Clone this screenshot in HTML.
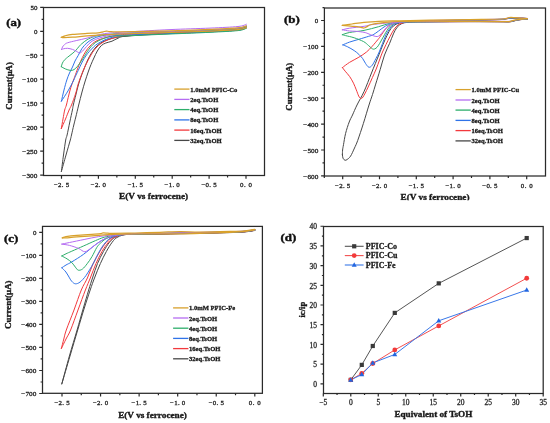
<!DOCTYPE html>
<html><head><meta charset="utf-8"><title>CV figure</title>
<style>
html,body{margin:0;padding:0;background:#fff;}
body{width:550px;height:423px;overflow:hidden;}
svg{display:block;}
text{font-family:'Liberation Serif', 'Times New Roman', serif;fill:#222;}
.tk{font-size:6.9px;fill:#2a2a2a;stroke:#2a2a2a;stroke-width:0.32px;}
.tkd{font-size:7.5px;fill:#2a2a2a;stroke:#2a2a2a;stroke-width:0.28px;}
.at{font-size:8.7px;font-weight:bold;stroke:#1a1a1a;stroke-width:0.35px;fill:#1a1a1a;}
.pl{font-size:11.3px;font-weight:bold;stroke:#111;stroke-width:0.45px;fill:#111;}
.lg{font-weight:bold;stroke:#1a1a1a;stroke-width:0.3px;fill:#1a1a1a;}
.lgd{font-size:8px;font-weight:bold;stroke:#1a1a1a;stroke-width:0.3px;fill:#1a1a1a;}
</style></head><body>
<svg width="550" height="423" viewBox="0 0 550 423">
<rect width="550" height="423" fill="#fff"/>
<rect x="43.5" y="7.5" width="221" height="168" fill="none" stroke="#2a2a2a" stroke-width="1.25"/>
<path d="M61.50 175.50V178.80M98.40 175.50V178.80M135.30 175.50V178.80M172.20 175.50V178.80M209.10 175.50V178.80M246.00 175.50V178.80M79.95 175.50V177.40M116.85 175.50V177.40M153.75 175.50V177.40M190.65 175.50V177.40M227.55 175.50V177.40M43.50 7.34H40.20M43.50 31.30H40.20M43.50 55.26H40.20M43.50 79.21H40.20M43.50 103.17H40.20M43.50 127.12H40.20M43.50 151.08H40.20M43.50 175.03H40.20M43.50 19.32H41.60M43.50 43.28H41.60M43.50 67.23H41.60M43.50 91.19H41.60M43.50 115.14H41.60M43.50 139.10H41.60M43.50 163.05H41.60" stroke="#2a2a2a" stroke-width="1.2" fill="none"/>
<text x="53.90" y="187.40" class="tk" textLength="15.20" lengthAdjust="spacing">−2. 5</text>
<text x="90.80" y="187.40" class="tk" textLength="15.20" lengthAdjust="spacing">−2. 0</text>
<text x="127.70" y="187.40" class="tk" textLength="15.20" lengthAdjust="spacing">−1. 5</text>
<text x="164.60" y="187.40" class="tk" textLength="15.20" lengthAdjust="spacing">−1. 0</text>
<text x="201.50" y="187.40" class="tk" textLength="15.20" lengthAdjust="spacing">−0. 5</text>
<text x="240.00" y="187.40" class="tk" textLength="12.00" lengthAdjust="spacing">0. 0</text>
<text x="30.46" y="10.24" class="tk" textLength="6.94" lengthAdjust="spacingAndGlyphs">50</text>
<text x="33.93" y="34.20" class="tk" textLength="3.47" lengthAdjust="spacingAndGlyphs">0</text>
<text x="25.86" y="58.16" class="tk" textLength="11.54" lengthAdjust="spacingAndGlyphs">−50</text>
<text x="22.39" y="82.11" class="tk" textLength="15.01" lengthAdjust="spacingAndGlyphs">−100</text>
<text x="22.39" y="106.07" class="tk" textLength="15.01" lengthAdjust="spacingAndGlyphs">−150</text>
<text x="22.39" y="130.02" class="tk" textLength="15.01" lengthAdjust="spacingAndGlyphs">−200</text>
<text x="22.39" y="153.98" class="tk" textLength="15.01" lengthAdjust="spacingAndGlyphs">−250</text>
<text x="22.39" y="177.93" class="tk" textLength="15.01" lengthAdjust="spacingAndGlyphs">−300</text>
<path d="M246.30 27.80 C244.92 28.18 244.05 29.43 238.00 30.10 C231.95 30.77 221.33 31.23 210.00 31.80 C198.67 32.37 184.00 32.77 170.00 33.50 C156.00 34.23 134.67 35.42 126.00 36.20 C117.33 36.98 120.33 37.37 118.00 38.20 C115.67 39.03 114.03 40.40 112.00 41.20 C109.97 42.00 107.58 42.27 105.80 43.00 C104.02 43.73 102.72 44.27 101.30 45.60 C99.88 46.93 98.53 48.93 97.30 51.00 C96.07 53.07 94.95 55.75 93.90 58.00 C92.85 60.25 91.95 62.17 91.00 64.50 C90.05 66.83 89.17 69.25 88.20 72.00 C87.23 74.75 86.23 77.67 85.20 81.00 C84.17 84.33 83.08 88.00 82.00 92.00 C80.92 96.00 79.73 100.83 78.70 105.00 C77.67 109.17 76.62 113.67 75.80 117.00 C74.98 120.33 74.52 122.00 73.80 125.00 C73.08 128.00 72.08 132.50 71.50 135.00 C70.92 137.50 71.22 136.67 70.30 140.00 C69.38 143.33 67.48 149.77 66.00 155.00 C64.52 160.23 62.17 168.67 61.40 171.40" stroke="#474747" stroke-width="1.0" fill="none" stroke-linejoin="round" stroke-linecap="round"/>
<path d="M61.40 171.40 C61.75 168.67 62.78 160.23 63.50 155.00 C64.22 149.77 65.10 143.33 65.70 140.00 C66.30 136.67 66.42 138.00 67.10 135.00 C67.78 132.00 68.92 126.17 69.80 122.00 C70.68 117.83 71.82 112.83 72.40 110.00 C72.98 107.17 72.73 107.50 73.30 105.00 C73.87 102.50 75.05 98.00 75.80 95.00 C76.55 92.00 77.07 89.67 77.80 87.00 C78.53 84.33 79.23 81.83 80.20 79.00 C81.17 76.17 82.35 73.17 83.60 70.00 C84.85 66.83 86.38 62.83 87.70 60.00 C89.02 57.17 90.12 55.17 91.50 53.00 C92.88 50.83 94.25 48.80 96.00 47.00 C97.75 45.20 99.67 43.53 102.00 42.20 C104.33 40.87 107.00 39.90 110.00 39.00 C113.00 38.10 115.00 37.50 120.00 36.80 C125.00 36.10 131.67 35.45 140.00 34.80 C148.33 34.15 158.33 33.50 170.00 32.90 C181.67 32.30 198.67 31.78 210.00 31.20 C221.33 30.62 231.95 30.10 238.00 29.40 C244.05 28.70 244.92 27.40 246.30 27.00" stroke="#474747" stroke-width="1.0" fill="none" stroke-linejoin="round" stroke-linecap="round"/>
<path d="M246.30 27.40 C244.92 27.78 244.05 29.03 238.00 29.70 C231.95 30.37 221.33 30.83 210.00 31.40 C198.67 31.97 184.00 32.43 170.00 33.10 C156.00 33.77 135.00 34.72 126.00 35.40 C117.00 36.08 119.00 36.47 116.00 37.20 C113.00 37.93 110.50 38.75 108.00 39.80 C105.50 40.85 103.00 42.13 101.00 43.50 C99.00 44.87 97.42 46.50 96.00 48.00 C94.58 49.50 93.57 50.92 92.50 52.50 C91.43 54.08 90.60 55.67 89.60 57.50 C88.60 59.33 87.60 61.25 86.50 63.50 C85.40 65.75 84.15 68.25 83.00 71.00 C81.85 73.75 80.45 77.67 79.60 80.00 C78.75 82.33 78.58 82.67 77.90 85.00 C77.22 87.33 76.57 90.67 75.50 94.00 C74.43 97.33 72.57 102.33 71.50 105.00 C70.43 107.67 70.10 107.67 69.10 110.00 C68.10 112.33 66.80 115.90 65.50 119.00 C64.20 122.10 62.00 127.00 61.30 128.60" stroke="#F2393D" stroke-width="1.0" fill="none" stroke-linejoin="round" stroke-linecap="round"/>
<path d="M61.30 128.60 C61.58 127.00 62.43 122.10 63.00 119.00 C63.57 115.90 64.13 112.33 64.70 110.00 C65.27 107.67 65.72 107.50 66.40 105.00 C67.08 102.50 68.05 97.95 68.80 95.00 C69.55 92.05 70.12 89.80 70.90 87.30 C71.68 84.80 72.73 82.12 73.50 80.00 C74.27 77.88 74.62 77.02 75.50 74.60 C76.38 72.18 77.65 68.35 78.80 65.50 C79.95 62.65 81.20 59.92 82.40 57.50 C83.60 55.08 84.73 52.92 86.00 51.00 C87.27 49.08 88.33 47.63 90.00 46.00 C91.67 44.37 93.50 42.57 96.00 41.20 C98.50 39.83 101.83 38.72 105.00 37.80 C108.17 36.88 110.83 36.33 115.00 35.70 C119.17 35.07 120.83 34.62 130.00 34.00 C139.17 33.38 156.67 32.60 170.00 32.00 C183.33 31.40 198.67 30.95 210.00 30.40 C221.33 29.85 231.95 29.35 238.00 28.70 C244.05 28.05 244.92 26.87 246.30 26.50" stroke="#F2393D" stroke-width="1.0" fill="none" stroke-linejoin="round" stroke-linecap="round"/>
<path d="M246.30 27.90 C244.92 28.28 244.05 29.53 238.00 30.20 C231.95 30.87 221.33 31.33 210.00 31.90 C198.67 32.47 184.67 33.05 170.00 33.60 C155.33 34.15 131.50 34.63 122.00 35.20 C112.50 35.77 115.83 36.23 113.00 37.00 C110.17 37.77 107.50 38.72 105.00 39.80 C102.50 40.88 99.92 42.30 98.00 43.50 C96.08 44.70 94.92 45.72 93.50 47.00 C92.08 48.28 90.78 49.70 89.50 51.20 C88.22 52.70 87.02 54.20 85.80 56.00 C84.58 57.80 83.47 59.58 82.20 62.00 C80.93 64.42 79.37 68.03 78.20 70.50 C77.03 72.97 75.93 75.22 75.20 76.80 C74.47 78.38 75.00 77.65 73.80 80.00 C72.60 82.35 70.07 87.37 68.00 90.90 C65.93 94.43 62.50 99.48 61.40 101.20" stroke="#2F73E8" stroke-width="1.0" fill="none" stroke-linejoin="round" stroke-linecap="round"/>
<path d="M61.40 101.20 C61.83 99.33 63.10 93.53 64.00 90.00 C64.90 86.47 65.88 82.83 66.80 80.00 C67.72 77.17 68.55 75.17 69.50 73.00 C70.45 70.83 71.58 69.00 72.50 67.00 C73.42 65.00 74.05 62.92 75.00 61.00 C75.95 59.08 77.03 57.60 78.20 55.50 C79.37 53.40 80.53 50.52 82.00 48.40 C83.47 46.28 85.17 44.40 87.00 42.80 C88.83 41.20 90.83 39.90 93.00 38.80 C95.17 37.70 97.17 36.90 100.00 36.20 C102.83 35.50 105.00 35.10 110.00 34.60 C115.00 34.10 120.00 33.70 130.00 33.20 C140.00 32.70 156.67 32.13 170.00 31.60 C183.33 31.07 198.67 30.55 210.00 30.00 C221.33 29.45 231.95 28.93 238.00 28.30 C244.05 27.67 244.92 26.55 246.30 26.20" stroke="#2F73E8" stroke-width="1.0" fill="none" stroke-linejoin="round" stroke-linecap="round"/>
<path d="M246.30 28.30 C244.92 28.68 244.05 29.93 238.00 30.60 C231.95 31.27 221.33 31.73 210.00 32.30 C198.67 32.87 185.00 33.38 170.00 34.00 C155.00 34.62 129.50 35.70 120.00 36.00 C110.50 36.30 115.50 35.47 113.00 35.80 C110.50 36.13 107.50 37.13 105.00 38.00 C102.50 38.87 100.00 39.92 98.00 41.00 C96.00 42.08 94.50 43.13 93.00 44.50 C91.50 45.87 90.10 47.78 89.00 49.20 C87.90 50.62 87.20 51.78 86.40 53.00 C85.60 54.22 85.05 55.17 84.20 56.50 C83.35 57.83 82.40 59.38 81.30 61.00 C80.20 62.62 78.82 64.77 77.60 66.20 C76.38 67.63 75.20 68.90 74.00 69.60 C72.80 70.30 71.85 70.52 70.40 70.40 C68.95 70.28 66.82 69.52 65.30 68.90 C63.78 68.28 61.97 67.07 61.30 66.70" stroke="#2DAE6B" stroke-width="1.0" fill="none" stroke-linejoin="round" stroke-linecap="round"/>
<path d="M61.30 66.70 C61.48 66.10 61.87 64.22 62.40 63.10 C62.93 61.98 63.65 60.97 64.50 60.00 C65.35 59.03 65.80 58.72 67.50 57.30 C69.20 55.88 72.65 53.45 74.70 51.50 C76.75 49.55 78.58 46.92 79.80 45.60 C81.02 44.28 80.78 44.58 82.00 43.60 C83.22 42.62 85.03 40.87 87.10 39.70 C89.17 38.53 91.42 37.45 94.40 36.60 C97.38 35.75 99.07 35.17 105.00 34.60 C110.93 34.03 119.17 33.67 130.00 33.20 C140.83 32.73 156.67 32.27 170.00 31.80 C183.33 31.33 198.67 30.90 210.00 30.40 C221.33 29.90 231.95 29.43 238.00 28.80 C244.05 28.17 244.92 26.97 246.30 26.60" stroke="#2DAE6B" stroke-width="1.0" fill="none" stroke-linejoin="round" stroke-linecap="round"/>
<path d="M246.30 25.90 C244.92 26.28 244.05 27.53 238.00 28.20 C231.95 28.87 221.33 29.33 210.00 29.90 C198.67 30.47 185.00 30.98 170.00 31.60 C155.00 32.22 129.17 33.13 120.00 33.60 C110.83 34.07 117.00 34.03 115.00 34.40 C113.00 34.77 110.50 35.23 108.00 35.80 C105.50 36.37 102.67 36.90 100.00 37.80 C97.33 38.70 94.25 39.75 92.00 41.20 C89.75 42.65 88.08 44.83 86.50 46.50 C84.92 48.17 83.65 50.13 82.50 51.20 C81.35 52.27 80.65 52.90 79.60 52.90 C78.55 52.90 77.38 51.78 76.20 51.20 C75.02 50.62 73.95 49.88 72.50 49.40 C71.05 48.92 69.00 48.40 67.50 48.30 C66.00 48.20 64.48 48.62 63.50 48.80 C62.52 48.98 61.92 49.30 61.60 49.40" stroke="#B56CF2" stroke-width="1.0" fill="none" stroke-linejoin="round" stroke-linecap="round"/>
<path d="M61.60 49.40 C61.75 49.00 62.02 47.80 62.50 47.00 C62.98 46.20 63.67 45.30 64.50 44.60 C65.33 43.90 65.55 43.47 67.50 42.80 C69.45 42.13 72.93 41.38 76.20 40.60 C79.47 39.82 83.47 39.03 87.10 38.10 C90.73 37.17 94.52 35.82 98.00 35.00 C101.48 34.18 102.67 33.73 108.00 33.20 C113.33 32.67 119.67 32.40 130.00 31.80 C140.33 31.20 156.67 30.22 170.00 29.60 C183.33 28.98 198.67 28.62 210.00 28.10 C221.33 27.58 231.95 27.13 238.00 26.50 C244.05 25.87 244.92 24.67 246.30 24.30" stroke="#B56CF2" stroke-width="1.0" fill="none" stroke-linejoin="round" stroke-linecap="round"/>
<path d="M61.30 37.30 C61.92 37.05 63.13 36.28 65.00 35.80 C66.87 35.32 68.83 34.80 72.50 34.40 C76.17 34.00 82.75 33.65 87.00 33.40 C91.25 33.15 95.33 33.17 98.00 32.90 C100.67 32.63 101.58 32.10 103.00 31.80 C104.42 31.50 105.33 31.13 106.50 31.10 C107.67 31.07 107.75 31.47 110.00 31.60 C112.25 31.73 110.00 32.02 120.00 31.90 C130.00 31.78 155.00 31.32 170.00 30.90 C185.00 30.48 198.67 29.90 210.00 29.40 C221.33 28.90 231.95 28.50 238.00 27.90 C244.05 27.30 244.92 26.15 246.30 25.80" stroke="#D8A12C" stroke-width="1.25" fill="none" stroke-linejoin="round" stroke-linecap="round"/>
<path d="M61.30 37.30 C61.75 37.35 62.13 37.62 64.00 37.60 C65.87 37.58 68.67 37.48 72.50 37.20 C76.33 36.92 82.75 36.23 87.00 35.90 C91.25 35.57 92.50 35.52 98.00 35.20 C103.50 34.88 108.00 34.45 120.00 34.00 C132.00 33.55 155.00 32.98 170.00 32.50 C185.00 32.02 198.67 31.57 210.00 31.10 C221.33 30.63 231.95 30.28 238.00 29.70 C244.05 29.12 244.92 27.95 246.30 27.60" stroke="#D8A12C" stroke-width="1.25" fill="none" stroke-linejoin="round" stroke-linecap="round"/>
<path d="M174.30 89.10H189.50" stroke="#D8A12C" stroke-width="1.3"/>
<text transform="translate(190.20 91.60) scale(0.95 1)" class="lg" style="font-size:6.95px">1.0mM PFIC-Co</text>
<path d="M174.30 99.40H189.50" stroke="#B56CF2" stroke-width="1.3"/>
<text transform="translate(190.20 101.90) scale(0.95 1)" class="lg" style="font-size:6.95px">2eq.TsOH</text>
<path d="M174.30 109.60H189.50" stroke="#2DAE6B" stroke-width="1.3"/>
<text transform="translate(190.20 112.10) scale(0.95 1)" class="lg" style="font-size:6.95px">4eq.TsOH</text>
<path d="M174.30 119.90H189.50" stroke="#2F73E8" stroke-width="1.3"/>
<text transform="translate(190.20 122.40) scale(0.95 1)" class="lg" style="font-size:6.95px">8eq.TsOH</text>
<path d="M174.30 130.10H189.50" stroke="#F2393D" stroke-width="1.3"/>
<text transform="translate(190.20 132.60) scale(0.95 1)" class="lg" style="font-size:6.95px">16eq.TsOH</text>
<path d="M174.30 140.40H189.50" stroke="#474747" stroke-width="1.3"/>
<text transform="translate(190.20 142.90) scale(0.95 1)" class="lg" style="font-size:6.95px">32eq.TsOH</text>
<text x="153.60" y="199.20" text-anchor="middle" class="at" textLength="69.00" lengthAdjust="spacingAndGlyphs">E(V vs ferrocene)</text>
<text transform="translate(11.90 85.90) rotate(-90)" text-anchor="middle" class="at" textLength="47.50" lengthAdjust="spacingAndGlyphs">Current(μA)</text>
<text x="13.65" y="25.50" text-anchor="middle" class="pl" textLength="14.90" lengthAdjust="spacingAndGlyphs">(a)</text>
<rect x="324.4" y="8" width="221.1" height="168" fill="none" stroke="#2a2a2a" stroke-width="1.25"/>
<path d="M342.70 176.00V179.30M379.50 176.00V179.30M416.30 176.00V179.30M453.10 176.00V179.30M489.90 176.00V179.30M526.70 176.00V179.30M324.30 176.00V177.90M361.10 176.00V177.90M397.90 176.00V177.90M434.70 176.00V177.90M471.50 176.00V177.90M508.30 176.00V177.90M324.40 20.50H321.10M324.40 46.40H321.10M324.40 72.30H321.10M324.40 98.20H321.10M324.40 124.10H321.10M324.40 150.00H321.10M324.40 175.90H321.10M324.40 7.55H322.50M324.40 33.45H322.50M324.40 59.35H322.50M324.40 85.25H322.50M324.40 111.15H322.50M324.40 137.05H322.50M324.40 162.95H322.50" stroke="#2a2a2a" stroke-width="1.2" fill="none"/>
<text x="335.10" y="187.90" class="tk" textLength="15.20" lengthAdjust="spacing">−2. 5</text>
<text x="371.90" y="187.90" class="tk" textLength="15.20" lengthAdjust="spacing">−2. 0</text>
<text x="408.70" y="187.90" class="tk" textLength="15.20" lengthAdjust="spacing">−1. 5</text>
<text x="445.50" y="187.90" class="tk" textLength="15.20" lengthAdjust="spacing">−1. 0</text>
<text x="482.30" y="187.90" class="tk" textLength="15.20" lengthAdjust="spacing">−0. 5</text>
<text x="520.70" y="187.90" class="tk" textLength="12.00" lengthAdjust="spacing">0. 0</text>
<text x="314.83" y="23.40" class="tk" textLength="3.47" lengthAdjust="spacingAndGlyphs">0</text>
<text x="303.29" y="49.30" class="tk" textLength="15.01" lengthAdjust="spacingAndGlyphs">−100</text>
<text x="303.29" y="75.20" class="tk" textLength="15.01" lengthAdjust="spacingAndGlyphs">−200</text>
<text x="303.29" y="101.10" class="tk" textLength="15.01" lengthAdjust="spacingAndGlyphs">−300</text>
<text x="303.29" y="127.00" class="tk" textLength="15.01" lengthAdjust="spacingAndGlyphs">−400</text>
<text x="303.29" y="152.90" class="tk" textLength="15.01" lengthAdjust="spacingAndGlyphs">−500</text>
<text x="303.29" y="178.80" class="tk" textLength="15.01" lengthAdjust="spacingAndGlyphs">−600</text>
<path d="M342.40 154.60 C342.43 153.83 342.42 151.65 342.60 150.00 C342.78 148.35 343.00 147.47 343.50 144.70 C344.00 141.93 344.65 137.18 345.60 133.40 C346.55 129.62 348.05 125.07 349.20 122.00 C350.35 118.93 351.20 117.83 352.50 115.00 C353.80 112.17 355.07 108.93 357.00 105.00 C358.93 101.07 361.68 96.73 364.10 91.40 C366.52 86.07 369.05 79.07 371.50 73.00 C373.95 66.93 376.88 59.75 378.80 55.00 C380.72 50.25 381.63 47.75 383.00 44.50 C384.37 41.25 385.67 38.17 387.00 35.50 C388.33 32.83 389.50 30.38 391.00 28.50 C392.50 26.62 394.00 25.22 396.00 24.20 C398.00 23.18 400.33 22.82 403.00 22.40 C405.67 21.98 400.83 22.05 412.00 21.70 C423.17 21.35 455.33 20.65 470.00 20.30 C484.67 19.95 494.00 19.83 500.00 19.60 C506.00 19.37 504.00 19.15 506.00 18.90 C508.00 18.65 509.67 18.22 512.00 18.10 C514.33 17.98 517.45 18.07 520.00 18.20 C522.55 18.33 526.08 18.78 527.30 18.90" stroke="#474747" stroke-width="1.0" fill="none" stroke-linejoin="round" stroke-linecap="round"/>
<path d="M342.40 154.60 C342.50 155.20 342.58 157.27 343.00 158.20 C343.42 159.13 344.23 159.97 344.90 160.20 C345.57 160.43 346.05 160.28 347.00 159.60 C347.95 158.92 349.35 158.03 350.60 156.10 C351.85 154.17 353.32 150.60 354.50 148.00 C355.68 145.40 356.22 144.60 357.70 140.50 C359.18 136.40 361.52 129.32 363.40 123.40 C365.28 117.48 367.48 109.82 369.00 105.00 C370.52 100.18 371.38 97.98 372.50 94.50 C373.62 91.02 374.42 88.27 375.70 84.10 C376.98 79.93 378.73 74.35 380.20 69.50 C381.67 64.65 382.93 59.35 384.50 55.00 C386.07 50.65 388.12 46.92 389.60 43.40 C391.08 39.88 392.15 36.58 393.40 33.90 C394.65 31.22 395.68 29.03 397.10 27.30 C398.52 25.57 400.08 24.33 401.90 23.50 C403.72 22.67 405.65 22.58 408.00 22.30 C410.35 22.02 405.67 21.90 416.00 21.80 C426.33 21.70 456.00 21.70 470.00 21.70 C484.00 21.70 493.67 21.77 500.00 21.80 C506.33 21.83 506.00 21.95 508.00 21.90 C510.00 21.85 510.50 21.78 512.00 21.50 C513.50 21.22 515.33 20.53 517.00 20.20 C518.67 19.87 520.28 19.65 522.00 19.50 C523.72 19.35 526.42 19.33 527.30 19.30" stroke="#474747" stroke-width="1.0" fill="none" stroke-linejoin="round" stroke-linecap="round"/>
<path d="M527.30 19.20 C526.42 19.23 523.72 19.25 522.00 19.40 C520.28 19.55 518.67 19.77 517.00 20.10 C515.33 20.43 513.50 21.12 512.00 21.40 C510.50 21.68 510.00 21.75 508.00 21.80 C506.00 21.85 506.33 21.73 500.00 21.70 C493.67 21.67 481.67 21.57 470.00 21.60 C458.33 21.63 440.00 21.83 430.00 21.90 C420.00 21.97 414.50 21.85 410.00 22.00 C405.50 22.15 405.00 22.30 403.00 22.80 C401.00 23.30 399.50 23.88 398.00 25.00 C396.50 26.12 395.33 27.58 394.00 29.50 C392.67 31.42 391.33 34.00 390.00 36.50 C388.67 39.00 387.25 41.92 386.00 44.50 C384.75 47.08 383.58 49.42 382.50 52.00 C381.42 54.58 380.55 57.17 379.50 60.00 C378.45 62.83 377.38 66.07 376.20 69.00 C375.02 71.93 373.82 74.43 372.40 77.60 C370.98 80.77 369.27 84.77 367.70 88.00 C366.13 91.23 364.18 95.27 363.00 97.00 C361.82 98.73 361.32 98.57 360.60 98.40 C359.88 98.23 359.42 97.42 358.70 96.00 C357.98 94.58 357.17 92.03 356.30 89.90 C355.43 87.77 354.60 85.42 353.50 83.20 C352.40 80.98 351.08 78.60 349.70 76.60 C348.32 74.60 346.42 72.70 345.20 71.20 C343.98 69.70 342.87 68.20 342.40 67.60" stroke="#F2393D" stroke-width="1.0" fill="none" stroke-linejoin="round" stroke-linecap="round"/>
<path d="M342.40 67.60 C343.58 66.73 346.75 64.13 349.50 62.40 C352.25 60.67 356.07 58.93 358.90 57.20 C361.73 55.47 364.28 53.82 366.50 52.00 C368.72 50.18 370.32 48.35 372.20 46.30 C374.08 44.25 376.50 41.27 377.80 39.70 C379.10 38.13 379.13 38.10 380.00 36.90 C380.87 35.70 381.92 34.02 383.00 32.50 C384.08 30.98 385.25 29.12 386.50 27.80 C387.75 26.48 388.92 25.42 390.50 24.60 C392.08 23.78 393.92 23.33 396.00 22.90 C398.08 22.47 397.33 22.32 403.00 22.00 C408.67 21.68 418.83 21.30 430.00 21.00 C441.17 20.70 458.33 20.45 470.00 20.20 C481.67 19.95 494.00 19.73 500.00 19.50 C506.00 19.27 504.00 19.05 506.00 18.80 C508.00 18.55 509.67 18.12 512.00 18.00 C514.33 17.88 517.45 17.97 520.00 18.10 C522.55 18.23 526.08 18.68 527.30 18.80" stroke="#F2393D" stroke-width="1.0" fill="none" stroke-linejoin="round" stroke-linecap="round"/>
<path d="M527.30 19.10 C526.42 19.13 523.72 19.15 522.00 19.30 C520.28 19.45 518.67 19.67 517.00 20.00 C515.33 20.33 513.50 21.02 512.00 21.30 C510.50 21.58 510.00 21.65 508.00 21.70 C506.00 21.75 506.33 21.63 500.00 21.60 C493.67 21.57 481.67 21.47 470.00 21.50 C458.33 21.53 440.83 21.72 430.00 21.80 C419.17 21.88 410.33 21.82 405.00 22.00 C399.67 22.18 399.97 22.43 398.00 22.90 C396.03 23.37 394.62 23.78 393.20 24.80 C391.78 25.82 390.72 27.30 389.50 29.00 C388.28 30.70 387.07 32.58 385.90 35.00 C384.73 37.42 383.62 40.67 382.50 43.50 C381.38 46.33 380.30 49.48 379.20 52.00 C378.10 54.52 377.07 56.38 375.90 58.60 C374.73 60.82 373.38 63.87 372.20 65.30 C371.02 66.73 369.92 67.52 368.80 67.20 C367.68 66.88 366.52 64.83 365.50 63.40 C364.48 61.97 363.80 60.10 362.70 58.60 C361.60 57.10 360.32 55.73 358.90 54.40 C357.48 53.07 356.08 51.87 354.20 50.60 C352.32 49.33 349.50 47.75 347.60 46.80 C345.70 45.85 343.60 45.22 342.80 44.90" stroke="#2F73E8" stroke-width="1.0" fill="none" stroke-linejoin="round" stroke-linecap="round"/>
<path d="M342.80 44.90 C343.92 44.43 346.82 43.03 349.50 42.10 C352.18 41.17 355.75 40.25 358.90 39.30 C362.05 38.35 366.03 37.15 368.40 36.40 C370.77 35.65 371.40 35.70 373.10 34.80 C374.80 33.90 376.78 32.30 378.60 31.00 C380.42 29.70 382.05 28.17 384.00 27.00 C385.95 25.83 387.63 24.83 390.30 24.00 C392.97 23.17 393.38 22.52 400.00 22.00 C406.62 21.48 418.33 21.22 430.00 20.90 C441.67 20.58 458.33 20.35 470.00 20.10 C481.67 19.85 494.00 19.63 500.00 19.40 C506.00 19.17 504.00 18.95 506.00 18.70 C508.00 18.45 509.67 18.02 512.00 17.90 C514.33 17.78 517.45 17.87 520.00 18.00 C522.55 18.13 526.08 18.58 527.30 18.70" stroke="#2F73E8" stroke-width="1.0" fill="none" stroke-linejoin="round" stroke-linecap="round"/>
<path d="M527.30 19.00 C526.42 19.03 523.72 19.05 522.00 19.20 C520.28 19.35 518.67 19.57 517.00 19.90 C515.33 20.23 513.50 20.92 512.00 21.20 C510.50 21.48 510.00 21.55 508.00 21.60 C506.00 21.65 506.33 21.53 500.00 21.50 C493.67 21.47 481.67 21.37 470.00 21.40 C458.33 21.43 441.33 21.57 430.00 21.70 C418.67 21.83 407.83 21.95 402.00 22.20 C396.17 22.45 396.95 22.57 395.00 23.20 C393.05 23.83 391.63 24.78 390.30 26.00 C388.97 27.22 387.97 29.05 387.00 30.50 C386.03 31.95 385.50 32.95 384.50 34.70 C383.50 36.45 382.05 39.15 381.00 41.00 C379.95 42.85 379.03 44.60 378.20 45.80 C377.37 47.00 376.77 47.63 376.00 48.20 C375.23 48.77 374.35 49.20 373.60 49.20 C372.85 49.20 372.37 48.83 371.50 48.20 C370.63 47.57 369.72 46.50 368.40 45.40 C367.08 44.30 365.97 42.87 363.60 41.60 C361.23 40.33 357.22 38.80 354.20 37.80 C351.18 36.80 347.48 36.12 345.50 35.60 C343.52 35.08 342.83 34.85 342.30 34.70" stroke="#2DAE6B" stroke-width="1.0" fill="none" stroke-linejoin="round" stroke-linecap="round"/>
<path d="M342.30 34.70 C343.50 34.33 345.88 33.22 349.50 32.50 C353.12 31.78 359.15 31.37 364.00 30.40 C368.85 29.43 374.22 27.92 378.60 26.70 C382.98 25.48 386.73 23.92 390.30 23.10 C393.87 22.28 393.38 22.18 400.00 21.80 C406.62 21.42 418.33 21.10 430.00 20.80 C441.67 20.50 458.33 20.25 470.00 20.00 C481.67 19.75 494.00 19.53 500.00 19.30 C506.00 19.07 504.00 18.85 506.00 18.60 C508.00 18.35 509.67 17.92 512.00 17.80 C514.33 17.68 517.45 17.77 520.00 17.90 C522.55 18.03 526.08 18.48 527.30 18.60" stroke="#2DAE6B" stroke-width="1.0" fill="none" stroke-linejoin="round" stroke-linecap="round"/>
<path d="M527.30 18.80 C526.42 18.83 523.72 18.85 522.00 19.00 C520.28 19.15 518.67 19.37 517.00 19.70 C515.33 20.03 513.50 20.72 512.00 21.00 C510.50 21.28 510.00 21.35 508.00 21.40 C506.00 21.45 506.33 21.33 500.00 21.30 C493.67 21.27 481.67 21.17 470.00 21.20 C458.33 21.23 441.17 21.40 430.00 21.50 C418.83 21.60 408.67 21.62 403.00 21.80 C397.33 21.98 398.12 22.15 396.00 22.60 C393.88 23.05 391.88 23.63 390.30 24.50 C388.72 25.37 387.72 26.62 386.50 27.80 C385.28 28.98 384.08 30.40 383.00 31.60 C381.92 32.80 380.97 34.17 380.00 35.00 C379.03 35.83 378.40 36.50 377.20 36.60 C376.00 36.70 374.33 36.10 372.80 35.60 C371.27 35.10 369.47 34.15 368.00 33.60 C366.53 33.05 365.97 32.68 364.00 32.30 C362.03 31.92 358.62 31.52 356.20 31.30 C353.78 31.08 351.82 31.25 349.50 31.00 C347.18 30.75 343.50 30.00 342.30 29.80" stroke="#B56CF2" stroke-width="1.0" fill="none" stroke-linejoin="round" stroke-linecap="round"/>
<path d="M342.30 29.80 C343.50 29.53 345.87 28.78 349.50 28.20 C353.13 27.62 360.45 26.88 364.10 26.30 C367.75 25.72 367.77 25.23 371.40 24.70 C375.03 24.17 381.13 23.55 385.90 23.10 C390.67 22.65 392.65 22.42 400.00 22.00 C407.35 21.58 418.33 20.97 430.00 20.60 C441.67 20.23 458.33 20.05 470.00 19.80 C481.67 19.55 494.00 19.33 500.00 19.10 C506.00 18.87 504.00 18.65 506.00 18.40 C508.00 18.15 509.67 17.72 512.00 17.60 C514.33 17.48 517.45 17.57 520.00 17.70 C522.55 17.83 526.08 18.28 527.30 18.40" stroke="#B56CF2" stroke-width="1.0" fill="none" stroke-linejoin="round" stroke-linecap="round"/>
<path d="M342.30 25.30 C343.92 25.08 348.38 24.48 352.00 24.00 C355.62 23.52 359.57 22.85 364.00 22.40 C368.43 21.95 372.60 21.57 378.60 21.30 C384.60 21.03 391.43 20.98 400.00 20.80 C408.57 20.62 418.33 20.40 430.00 20.20 C441.67 20.00 457.83 19.80 470.00 19.60 C482.17 19.40 496.50 19.35 503.00 19.00 C509.50 18.65 507.00 17.73 509.00 17.50 C511.00 17.27 511.95 17.42 515.00 17.60 C518.05 17.78 525.25 18.43 527.30 18.60" stroke="#D8A12C" stroke-width="1.25" fill="none" stroke-linejoin="round" stroke-linecap="round"/>
<path d="M342.30 25.30 C344.23 25.47 350.95 26.00 353.90 26.30 C356.85 26.60 358.32 26.82 360.00 27.10 C361.68 27.38 362.83 28.08 364.00 28.00 C365.17 27.92 365.77 27.18 367.00 26.60 C368.23 26.02 368.25 25.20 371.40 24.50 C374.55 23.80 381.13 22.90 385.90 22.40 C390.67 21.90 392.65 21.70 400.00 21.50 C407.35 21.30 418.33 21.22 430.00 21.20 C441.67 21.18 457.83 21.33 470.00 21.40 C482.17 21.47 496.33 21.60 503.00 21.60 C509.67 21.60 507.83 21.70 510.00 21.40 C512.17 21.10 513.12 20.25 516.00 19.80 C518.88 19.35 525.42 18.88 527.30 18.70" stroke="#D8A12C" stroke-width="1.25" fill="none" stroke-linejoin="round" stroke-linecap="round"/>
<path d="M455.50 89.60H470.80" stroke="#D8A12C" stroke-width="1.3"/>
<text transform="translate(471.50 92.10) scale(0.95 1)" class="lg" style="font-size:6.95px">1.0mM PFIC-Cu</text>
<path d="M455.50 100.00H470.80" stroke="#B56CF2" stroke-width="1.3"/>
<text transform="translate(471.50 102.50) scale(0.95 1)" class="lg" style="font-size:6.95px">2eq.TsOH</text>
<path d="M455.50 110.10H470.80" stroke="#2DAE6B" stroke-width="1.3"/>
<text transform="translate(471.50 112.60) scale(0.95 1)" class="lg" style="font-size:6.95px">4eq.TsOH</text>
<path d="M455.50 120.40H470.80" stroke="#2F73E8" stroke-width="1.3"/>
<text transform="translate(471.50 122.90) scale(0.95 1)" class="lg" style="font-size:6.95px">8eq.TsOH</text>
<path d="M455.50 130.60H470.80" stroke="#F2393D" stroke-width="1.3"/>
<text transform="translate(471.50 133.10) scale(0.95 1)" class="lg" style="font-size:6.95px">16eq.TsOH</text>
<path d="M455.50 140.90H470.80" stroke="#474747" stroke-width="1.3"/>
<text transform="translate(471.50 143.40) scale(0.95 1)" class="lg" style="font-size:6.95px">32eq.TsOH</text>
<clipPath id="cb"><rect x="380" y="185" width="120" height="15.3"/></clipPath><g clip-path="url(#cb)">
<text x="435.00" y="199.90" text-anchor="middle" class="at" textLength="69.00" lengthAdjust="spacingAndGlyphs">E(V vs ferrocene)</text>
</g>
<text transform="translate(292.30 86.70) rotate(-90)" text-anchor="middle" class="at" textLength="48.00" lengthAdjust="spacingAndGlyphs">Current(μA)</text>
<text x="291.90" y="23.40" text-anchor="middle" class="pl" textLength="15.80" lengthAdjust="spacingAndGlyphs">(b)</text>
<rect x="42.5" y="226.4" width="219.9" height="166.9" fill="none" stroke="#2a2a2a" stroke-width="1.25"/>
<path d="M62.00 393.30V396.60M100.56 393.30V396.60M139.12 393.30V396.60M177.68 393.30V396.60M216.24 393.30V396.60M254.80 393.30V396.60M81.28 393.30V395.20M119.84 393.30V395.20M158.40 393.30V395.20M196.96 393.30V395.20M235.52 393.30V395.20M42.50 232.30H39.20M42.50 255.33H39.20M42.50 278.36H39.20M42.50 301.39H39.20M42.50 324.42H39.20M42.50 347.45H39.20M42.50 370.48H39.20M42.50 393.51H39.20M42.50 243.81H40.60M42.50 266.85H40.60M42.50 289.88H40.60M42.50 312.91H40.60M42.50 335.94H40.60M42.50 358.97H40.60M42.50 382.00H40.60" stroke="#2a2a2a" stroke-width="1.2" fill="none"/>
<text x="54.40" y="405.20" class="tk" textLength="15.20" lengthAdjust="spacing">−2. 5</text>
<text x="92.96" y="405.20" class="tk" textLength="15.20" lengthAdjust="spacing">−2. 0</text>
<text x="131.52" y="405.20" class="tk" textLength="15.20" lengthAdjust="spacing">−1. 5</text>
<text x="170.08" y="405.20" class="tk" textLength="15.20" lengthAdjust="spacing">−1. 0</text>
<text x="208.64" y="405.20" class="tk" textLength="15.20" lengthAdjust="spacing">−0. 5</text>
<text x="248.80" y="405.20" class="tk" textLength="12.00" lengthAdjust="spacing">0. 0</text>
<text x="32.93" y="235.20" class="tk" textLength="3.47" lengthAdjust="spacingAndGlyphs">0</text>
<text x="21.39" y="258.23" class="tk" textLength="15.01" lengthAdjust="spacingAndGlyphs">−100</text>
<text x="21.39" y="281.26" class="tk" textLength="15.01" lengthAdjust="spacingAndGlyphs">−200</text>
<text x="21.39" y="304.29" class="tk" textLength="15.01" lengthAdjust="spacingAndGlyphs">−300</text>
<text x="21.39" y="327.32" class="tk" textLength="15.01" lengthAdjust="spacingAndGlyphs">−400</text>
<text x="21.39" y="350.35" class="tk" textLength="15.01" lengthAdjust="spacingAndGlyphs">−500</text>
<text x="21.39" y="373.38" class="tk" textLength="15.01" lengthAdjust="spacingAndGlyphs">−600</text>
<text x="21.39" y="396.41" class="tk" textLength="15.01" lengthAdjust="spacingAndGlyphs">−700</text>
<path d="M61.80 383.90 C63.17 379.25 67.35 364.98 70.00 356.00 C72.65 347.02 75.37 337.83 77.70 330.00 C80.03 322.17 81.92 315.67 84.00 309.00 C86.08 302.33 88.45 295.17 90.20 290.00 C91.95 284.83 92.80 282.42 94.50 278.00 C96.20 273.58 98.43 267.90 100.40 263.50 C102.37 259.10 104.33 255.15 106.30 251.60 C108.27 248.05 110.43 244.55 112.20 242.20 C113.97 239.85 115.13 238.68 116.90 237.50 C118.67 236.32 120.62 235.65 122.80 235.10 C124.98 234.55 127.97 234.30 130.00 234.20 C132.03 234.10 130.00 234.52 135.00 234.50 C140.00 234.48 152.50 234.23 160.00 234.10 C167.50 233.97 173.33 233.83 180.00 233.70 C186.67 233.57 191.67 233.48 200.00 233.30 C208.33 233.12 222.50 232.83 230.00 232.60 C237.50 232.37 240.87 232.25 245.00 231.90 C249.13 231.55 253.17 230.73 254.80 230.50" stroke="#474747" stroke-width="1.0" fill="none" stroke-linejoin="round" stroke-linecap="round"/>
<path d="M61.80 383.90 C63.07 379.25 66.85 364.98 69.40 356.00 C71.95 347.02 74.82 337.83 77.10 330.00 C79.38 322.17 81.17 315.67 83.10 309.00 C85.03 302.33 87.13 295.17 88.70 290.00 C90.27 284.83 91.03 282.42 92.50 278.00 C93.97 273.58 95.68 267.90 97.50 263.50 C99.32 259.10 101.40 255.15 103.40 251.60 C105.40 248.05 107.60 244.55 109.50 242.20 C111.40 239.85 112.88 238.70 114.80 237.50 C116.72 236.30 118.47 235.55 121.00 235.00 C123.53 234.45 127.67 234.32 130.00 234.20 C132.33 234.08 130.00 234.35 135.00 234.30 C140.00 234.25 152.50 234.03 160.00 233.90 C167.50 233.77 173.33 233.63 180.00 233.50 C186.67 233.37 191.67 233.28 200.00 233.10 C208.33 232.92 222.50 232.63 230.00 232.40 C237.50 232.17 240.87 232.05 245.00 231.70 C249.13 231.35 253.17 230.53 254.80 230.30" stroke="#474747" stroke-width="1.0" fill="none" stroke-linejoin="round" stroke-linecap="round"/>
<path d="M254.80 230.30 C253.17 230.53 249.13 231.35 245.00 231.70 C240.87 232.05 237.50 232.17 230.00 232.40 C222.50 232.63 208.33 232.92 200.00 233.10 C191.67 233.28 186.67 233.37 180.00 233.50 C173.33 233.63 167.50 233.77 160.00 233.90 C152.50 234.03 140.33 234.25 135.00 234.30 C129.67 234.35 130.33 234.08 128.00 234.20 C125.67 234.32 123.33 234.47 121.00 235.00 C118.67 235.53 116.08 236.20 114.00 237.40 C111.92 238.60 110.50 239.85 108.50 242.20 C106.50 244.55 104.08 247.95 102.00 251.50 C99.92 255.05 97.95 259.08 96.00 263.50 C94.05 267.92 92.07 273.58 90.30 278.00 C88.53 282.42 87.45 284.67 85.40 290.00 C83.35 295.33 80.47 303.33 78.00 310.00 C75.53 316.67 72.60 325.17 70.60 330.00 C68.60 334.83 67.53 335.93 66.00 339.00 C64.47 342.07 62.17 346.83 61.40 348.40" stroke="#F2393D" stroke-width="1.0" fill="none" stroke-linejoin="round" stroke-linecap="round"/>
<path d="M61.40 348.40 C61.80 346.83 62.98 342.07 63.80 339.00 C64.62 335.93 64.60 334.83 66.30 330.00 C68.00 325.17 71.50 316.67 74.00 310.00 C76.50 303.33 79.07 295.33 81.30 290.00 C83.53 284.67 85.45 282.33 87.40 278.00 C89.35 273.67 90.98 268.33 93.00 264.00 C95.02 259.67 97.33 255.57 99.50 252.00 C101.67 248.43 103.92 245.00 106.00 242.60 C108.08 240.20 109.67 238.87 112.00 237.60 C114.33 236.33 117.33 235.58 120.00 235.00 C122.67 234.42 125.50 234.25 128.00 234.10 C130.50 233.95 129.67 234.17 135.00 234.10 C140.33 234.03 152.50 233.83 160.00 233.70 C167.50 233.57 173.33 233.43 180.00 233.30 C186.67 233.17 191.67 233.08 200.00 232.90 C208.33 232.72 222.50 232.43 230.00 232.20 C237.50 231.97 240.87 231.85 245.00 231.50 C249.13 231.15 253.17 230.33 254.80 230.10" stroke="#F2393D" stroke-width="1.0" fill="none" stroke-linejoin="round" stroke-linecap="round"/>
<path d="M254.80 230.20 C253.17 230.43 249.13 231.25 245.00 231.60 C240.87 231.95 237.50 232.07 230.00 232.30 C222.50 232.53 208.33 232.82 200.00 233.00 C191.67 233.18 186.67 233.27 180.00 233.40 C173.33 233.53 167.50 233.67 160.00 233.80 C152.50 233.93 140.67 234.12 135.00 234.20 C129.33 234.28 128.83 234.13 126.00 234.30 C123.17 234.47 120.50 234.63 118.00 235.20 C115.50 235.77 113.00 236.60 111.00 237.70 C109.00 238.80 107.58 240.12 106.00 241.80 C104.42 243.48 102.85 245.73 101.50 247.80 C100.15 249.87 99.30 251.55 97.90 254.20 C96.50 256.85 95.08 260.15 93.10 263.70 C91.12 267.25 88.17 272.45 86.00 275.50 C83.83 278.55 81.87 280.62 80.10 282.00 C78.33 283.38 76.78 283.90 75.40 283.80 C74.02 283.70 72.78 282.38 71.80 281.40 C70.82 280.42 70.48 279.47 69.50 277.90 C68.52 276.33 67.18 273.68 65.90 272.00 C64.62 270.32 62.48 268.50 61.80 267.80" stroke="#2F73E8" stroke-width="1.0" fill="none" stroke-linejoin="round" stroke-linecap="round"/>
<path d="M61.80 267.80 C62.50 267.33 64.33 265.98 66.00 265.00 C67.67 264.02 68.85 263.70 71.80 261.90 C74.75 260.10 79.75 257.07 83.70 254.20 C87.65 251.33 92.28 247.10 95.50 244.70 C98.72 242.30 100.53 241.12 103.00 239.80 C105.47 238.48 107.13 237.63 110.30 236.80 C113.47 235.97 117.88 235.28 122.00 234.80 C126.12 234.32 128.67 234.12 135.00 233.90 C141.33 233.68 152.50 233.63 160.00 233.50 C167.50 233.37 173.33 233.23 180.00 233.10 C186.67 232.97 191.67 232.88 200.00 232.70 C208.33 232.52 222.50 232.23 230.00 232.00 C237.50 231.77 240.87 231.65 245.00 231.30 C249.13 230.95 253.17 230.13 254.80 229.90" stroke="#2F73E8" stroke-width="1.0" fill="none" stroke-linejoin="round" stroke-linecap="round"/>
<path d="M254.80 230.10 C253.17 230.33 249.13 231.15 245.00 231.50 C240.87 231.85 237.50 231.97 230.00 232.20 C222.50 232.43 208.33 232.72 200.00 232.90 C191.67 233.08 186.67 233.17 180.00 233.30 C173.33 233.43 167.50 233.57 160.00 233.70 C152.50 233.83 140.83 234.00 135.00 234.10 C129.17 234.20 128.17 234.10 125.00 234.30 C121.83 234.50 118.67 234.80 116.00 235.30 C113.33 235.80 111.00 236.52 109.00 237.30 C107.00 238.08 105.50 238.95 104.00 240.00 C102.50 241.05 101.22 242.33 100.00 243.60 C98.78 244.87 98.03 245.43 96.70 247.60 C95.37 249.77 93.58 253.92 92.00 256.60 C90.42 259.28 88.78 261.63 87.20 263.70 C85.62 265.77 83.98 267.92 82.50 269.00 C81.02 270.08 79.48 270.50 78.30 270.20 C77.12 269.90 76.48 268.48 75.40 267.20 C74.32 265.92 73.18 263.88 71.80 262.50 C70.42 261.12 68.77 259.98 67.10 258.90 C65.43 257.82 62.68 256.48 61.80 256.00" stroke="#2DAE6B" stroke-width="1.0" fill="none" stroke-linejoin="round" stroke-linecap="round"/>
<path d="M61.80 256.00 C62.50 255.63 64.33 254.60 66.00 253.80 C67.67 253.00 68.85 252.52 71.80 251.20 C74.75 249.88 79.75 247.67 83.70 245.90 C87.65 244.13 92.28 241.98 95.50 240.60 C98.72 239.22 100.53 238.37 103.00 237.60 C105.47 236.83 107.13 236.50 110.30 236.00 C113.47 235.50 117.88 234.97 122.00 234.60 C126.12 234.23 128.67 234.00 135.00 233.80 C141.33 233.60 152.50 233.53 160.00 233.40 C167.50 233.27 173.33 233.13 180.00 233.00 C186.67 232.87 191.67 232.78 200.00 232.60 C208.33 232.42 222.50 232.13 230.00 231.90 C237.50 231.67 240.87 231.55 245.00 231.20 C249.13 230.85 253.17 230.03 254.80 229.80" stroke="#2DAE6B" stroke-width="1.0" fill="none" stroke-linejoin="round" stroke-linecap="round"/>
<path d="M254.80 229.90 C253.17 230.13 249.13 230.95 245.00 231.30 C240.87 231.65 237.50 231.77 230.00 232.00 C222.50 232.23 208.33 232.52 200.00 232.70 C191.67 232.88 186.67 232.97 180.00 233.10 C173.33 233.23 167.50 233.37 160.00 233.50 C152.50 233.63 141.67 233.68 135.00 233.90 C128.33 234.12 124.17 234.35 120.00 234.80 C115.83 235.25 112.67 235.87 110.00 236.60 C107.33 237.33 105.90 238.22 104.00 239.20 C102.10 240.18 100.60 241.15 98.60 242.50 C96.60 243.85 93.77 246.00 92.00 247.30 C90.23 248.60 89.18 249.55 88.00 250.30 C86.82 251.05 85.90 251.75 84.90 251.80 C83.90 251.85 83.10 251.18 82.00 250.60 C80.90 250.02 80.38 249.17 78.30 248.30 C76.22 247.43 72.25 246.10 69.50 245.40 C66.75 244.70 63.08 244.32 61.80 244.10" stroke="#B56CF2" stroke-width="1.0" fill="none" stroke-linejoin="round" stroke-linecap="round"/>
<path d="M61.80 244.10 C63.08 243.83 65.78 243.27 69.50 242.50 C73.22 241.73 79.25 240.48 84.10 239.50 C88.95 238.52 94.23 237.32 98.60 236.60 C102.97 235.88 106.40 235.58 110.30 235.20 C114.20 234.82 117.88 234.57 122.00 234.30 C126.12 234.03 128.67 233.78 135.00 233.60 C141.33 233.42 152.50 233.33 160.00 233.20 C167.50 233.07 173.33 232.93 180.00 232.80 C186.67 232.67 191.67 232.58 200.00 232.40 C208.33 232.22 222.50 231.93 230.00 231.70 C237.50 231.47 240.87 231.35 245.00 231.00 C249.13 230.65 253.17 229.83 254.80 229.60" stroke="#B56CF2" stroke-width="1.0" fill="none" stroke-linejoin="round" stroke-linecap="round"/>
<path d="M62.30 237.90 C62.92 237.68 63.58 237.03 66.00 236.60 C68.42 236.17 71.37 235.75 76.80 235.30 C82.23 234.85 94.23 234.30 98.60 233.90 C102.97 233.50 101.43 233.02 103.00 232.90 C104.57 232.78 106.33 233.12 108.00 233.20 C109.67 233.28 108.50 233.43 113.00 233.40 C117.50 233.37 127.17 233.18 135.00 233.00 C142.83 232.82 152.50 232.53 160.00 232.30 C167.50 232.07 173.33 231.65 180.00 231.60 C186.67 231.55 191.67 232.03 200.00 232.00 C208.33 231.97 222.50 231.60 230.00 231.40 C237.50 231.20 240.87 231.13 245.00 230.80 C249.13 230.47 253.17 229.63 254.80 229.40" stroke="#D8A12C" stroke-width="1.25" fill="none" stroke-linejoin="round" stroke-linecap="round"/>
<path d="M62.30 237.90 C62.92 237.90 63.58 238.07 66.00 237.90 C68.42 237.73 71.37 237.32 76.80 236.90 C82.23 236.48 92.53 235.82 98.60 235.40 C104.67 234.98 107.13 234.63 113.20 234.40 C119.27 234.17 127.20 234.08 135.00 234.00 C142.80 233.92 152.50 233.93 160.00 233.90 C167.50 233.87 173.33 233.90 180.00 233.80 C186.67 233.70 191.67 233.55 200.00 233.30 C208.33 233.05 222.50 232.62 230.00 232.30 C237.50 231.98 240.87 231.82 245.00 231.40 C249.13 230.98 253.17 230.07 254.80 229.80" stroke="#D8A12C" stroke-width="1.25" fill="none" stroke-linejoin="round" stroke-linecap="round"/>
<path d="M173.10 307.90H188.40" stroke="#D8A12C" stroke-width="1.3"/>
<text transform="translate(189.00 310.40) scale(0.95 1)" class="lg" style="font-size:6.95px">1.0mM PFIC-Fe</text>
<path d="M173.10 318.00H188.40" stroke="#B56CF2" stroke-width="1.3"/>
<text transform="translate(189.00 320.50) scale(0.95 1)" class="lg" style="font-size:6.95px">2eq.TsOH</text>
<path d="M173.10 328.20H188.40" stroke="#2DAE6B" stroke-width="1.3"/>
<text transform="translate(189.00 330.70) scale(0.95 1)" class="lg" style="font-size:6.95px">4eq.TsOH</text>
<path d="M173.10 338.40H188.40" stroke="#2F73E8" stroke-width="1.3"/>
<text transform="translate(189.00 340.90) scale(0.95 1)" class="lg" style="font-size:6.95px">8eq.TsOH</text>
<path d="M173.10 348.60H188.40" stroke="#F2393D" stroke-width="1.3"/>
<text transform="translate(189.00 351.10) scale(0.95 1)" class="lg" style="font-size:6.95px">16eq.TsOH</text>
<path d="M173.10 358.80H188.40" stroke="#474747" stroke-width="1.3"/>
<text transform="translate(189.00 361.30) scale(0.95 1)" class="lg" style="font-size:6.95px">32eq.TsOH</text>
<text x="152.50" y="417.60" text-anchor="middle" class="at" textLength="68.70" lengthAdjust="spacingAndGlyphs">E(V vs ferrocene)</text>
<text transform="translate(10.90 304.70) rotate(-90)" text-anchor="middle" class="at" textLength="48.50" lengthAdjust="spacingAndGlyphs">Current(μA)</text>
<text x="11.05" y="241.90" text-anchor="middle" class="pl" textLength="14.30" lengthAdjust="spacingAndGlyphs">(c)</text>
<rect x="323.5" y="226.5" width="219.7" height="167" fill="none" stroke="#2a2a2a" stroke-width="1.25"/>
<path d="M323.30 393.50V396.50M350.79 393.50V396.50M378.27 393.50V396.50M405.76 393.50V396.50M433.25 393.50V396.50M460.74 393.50V396.50M488.23 393.50V396.50M515.71 393.50V396.50M543.20 393.50V396.50M337.04 393.50V395.10M364.53 393.50V395.10M392.02 393.50V395.10M419.51 393.50V395.10M446.99 393.50V395.10M474.48 393.50V395.10M501.97 393.50V395.10M529.46 393.50V395.10M323.50 383.80H320.50M323.50 364.11H320.50M323.50 344.41H320.50M323.50 324.72H320.50M323.50 305.02H320.50M323.50 285.33H320.50M323.50 265.63H320.50M323.50 245.94H320.50M323.50 226.24H320.50M323.50 373.95H321.90M323.50 354.26H321.90M323.50 334.56H321.90M323.50 314.87H321.90M323.50 295.17H321.90M323.50 275.48H321.90M323.50 255.78H321.90M323.50 236.09H321.90" stroke="#2a2a2a" stroke-width="1.2" fill="none"/>
<text x="323.30" y="405.10" text-anchor="middle" class="tkd">−5</text>
<text x="350.79" y="405.10" text-anchor="middle" class="tkd">0</text>
<text x="378.27" y="405.10" text-anchor="middle" class="tkd">5</text>
<text x="405.76" y="405.10" text-anchor="middle" class="tkd">10</text>
<text x="433.25" y="405.10" text-anchor="middle" class="tkd">15</text>
<text x="460.74" y="405.10" text-anchor="middle" class="tkd">20</text>
<text x="488.23" y="405.10" text-anchor="middle" class="tkd">25</text>
<text x="515.71" y="405.10" text-anchor="middle" class="tkd">30</text>
<text x="543.20" y="405.10" text-anchor="middle" class="tkd">35</text>
<text x="316.90" y="387.00" text-anchor="end" class="tkd">0</text>
<text x="316.90" y="367.31" text-anchor="end" class="tkd">5</text>
<text x="316.90" y="347.61" text-anchor="end" class="tkd">10</text>
<text x="316.90" y="327.92" text-anchor="end" class="tkd">15</text>
<text x="316.90" y="308.22" text-anchor="end" class="tkd">20</text>
<text x="316.90" y="288.53" text-anchor="end" class="tkd">25</text>
<text x="316.90" y="268.83" text-anchor="end" class="tkd">30</text>
<text x="316.90" y="249.13" text-anchor="end" class="tkd">35</text>
<text x="316.90" y="229.44" text-anchor="end" class="tkd">40</text>
<polyline points="350.79,379.86 361.78,364.89 372.78,345.99 394.77,312.90 438.75,283.36 526.71,238.06" fill="none" stroke="#555555" stroke-width="1.0"/>
<polyline points="350.79,379.86 361.78,373.36 372.78,363.51 394.77,349.92 438.75,325.90 526.71,278.23" fill="none" stroke="#F25050" stroke-width="1.0"/>
<polyline points="350.79,379.86 361.78,374.54 372.78,362.92 394.77,354.45 438.75,320.78 526.71,290.05" fill="none" stroke="#3A78E8" stroke-width="1.0"/>
<rect x="348.69" y="377.76" width="4.20" height="4.20" fill="#3a3a3a"/>
<rect x="359.68" y="362.79" width="4.20" height="4.20" fill="#3a3a3a"/>
<rect x="370.68" y="343.89" width="4.20" height="4.20" fill="#3a3a3a"/>
<rect x="392.67" y="310.80" width="4.20" height="4.20" fill="#3a3a3a"/>
<rect x="436.65" y="281.26" width="4.20" height="4.20" fill="#3a3a3a"/>
<rect x="524.61" y="235.96" width="4.20" height="4.20" fill="#3a3a3a"/>
<circle cx="350.79" cy="379.86" r="2.40" fill="#F23A3A"/>
<circle cx="361.78" cy="373.36" r="2.40" fill="#F23A3A"/>
<circle cx="372.78" cy="363.51" r="2.40" fill="#F23A3A"/>
<circle cx="394.77" cy="349.92" r="2.40" fill="#F23A3A"/>
<circle cx="438.75" cy="325.90" r="2.40" fill="#F23A3A"/>
<circle cx="526.71" cy="278.23" r="2.40" fill="#F23A3A"/>
<path d="M350.79 377.16L353.29 381.66L348.29 381.66Z" fill="#2266E0"/>
<path d="M361.78 371.84L364.28 376.34L359.28 376.34Z" fill="#2266E0"/>
<path d="M372.78 360.22L375.28 364.72L370.28 364.72Z" fill="#2266E0"/>
<path d="M394.77 351.75L397.27 356.25L392.27 356.25Z" fill="#2266E0"/>
<path d="M438.75 318.08L441.25 322.58L436.25 322.58Z" fill="#2266E0"/>
<path d="M526.71 287.35L529.21 291.85L524.21 291.85Z" fill="#2266E0"/>
<path d="M344.8 246.30H363.6" stroke="#555555" stroke-width="1.1"/>
<rect x="352.10" y="244.20" width="4.20" height="4.20" fill="#3a3a3a"/>
<text x="365.8" y="249.10" class="lgd">PFIC-Co</text>
<path d="M344.8 255.60H363.6" stroke="#F25050" stroke-width="1.1"/>
<circle cx="354.20" cy="255.60" r="2.40" fill="#F23A3A"/>
<text x="365.8" y="258.40" class="lgd">PFIC-Cu</text>
<path d="M344.8 265.00H363.6" stroke="#3A78E8" stroke-width="1.1"/>
<path d="M354.20 262.30L356.70 266.80L351.70 266.80Z" fill="#2266E0"/>
<text x="365.8" y="267.80" class="lgd">PFIC-Fe</text>
<text x="433.40" y="417.20" text-anchor="middle" class="at" textLength="78.00" lengthAdjust="spacingAndGlyphs">Equivalent of TsOH</text>
<text transform="translate(304.60 309.70) rotate(-90)" text-anchor="middle" class="at" textLength="15.70" lengthAdjust="spacingAndGlyphs">ic/ip</text>
<text x="288.30" y="240.90" text-anchor="middle" class="pl" textLength="15.80" lengthAdjust="spacingAndGlyphs">(d)</text>
</svg>
</body></html>
